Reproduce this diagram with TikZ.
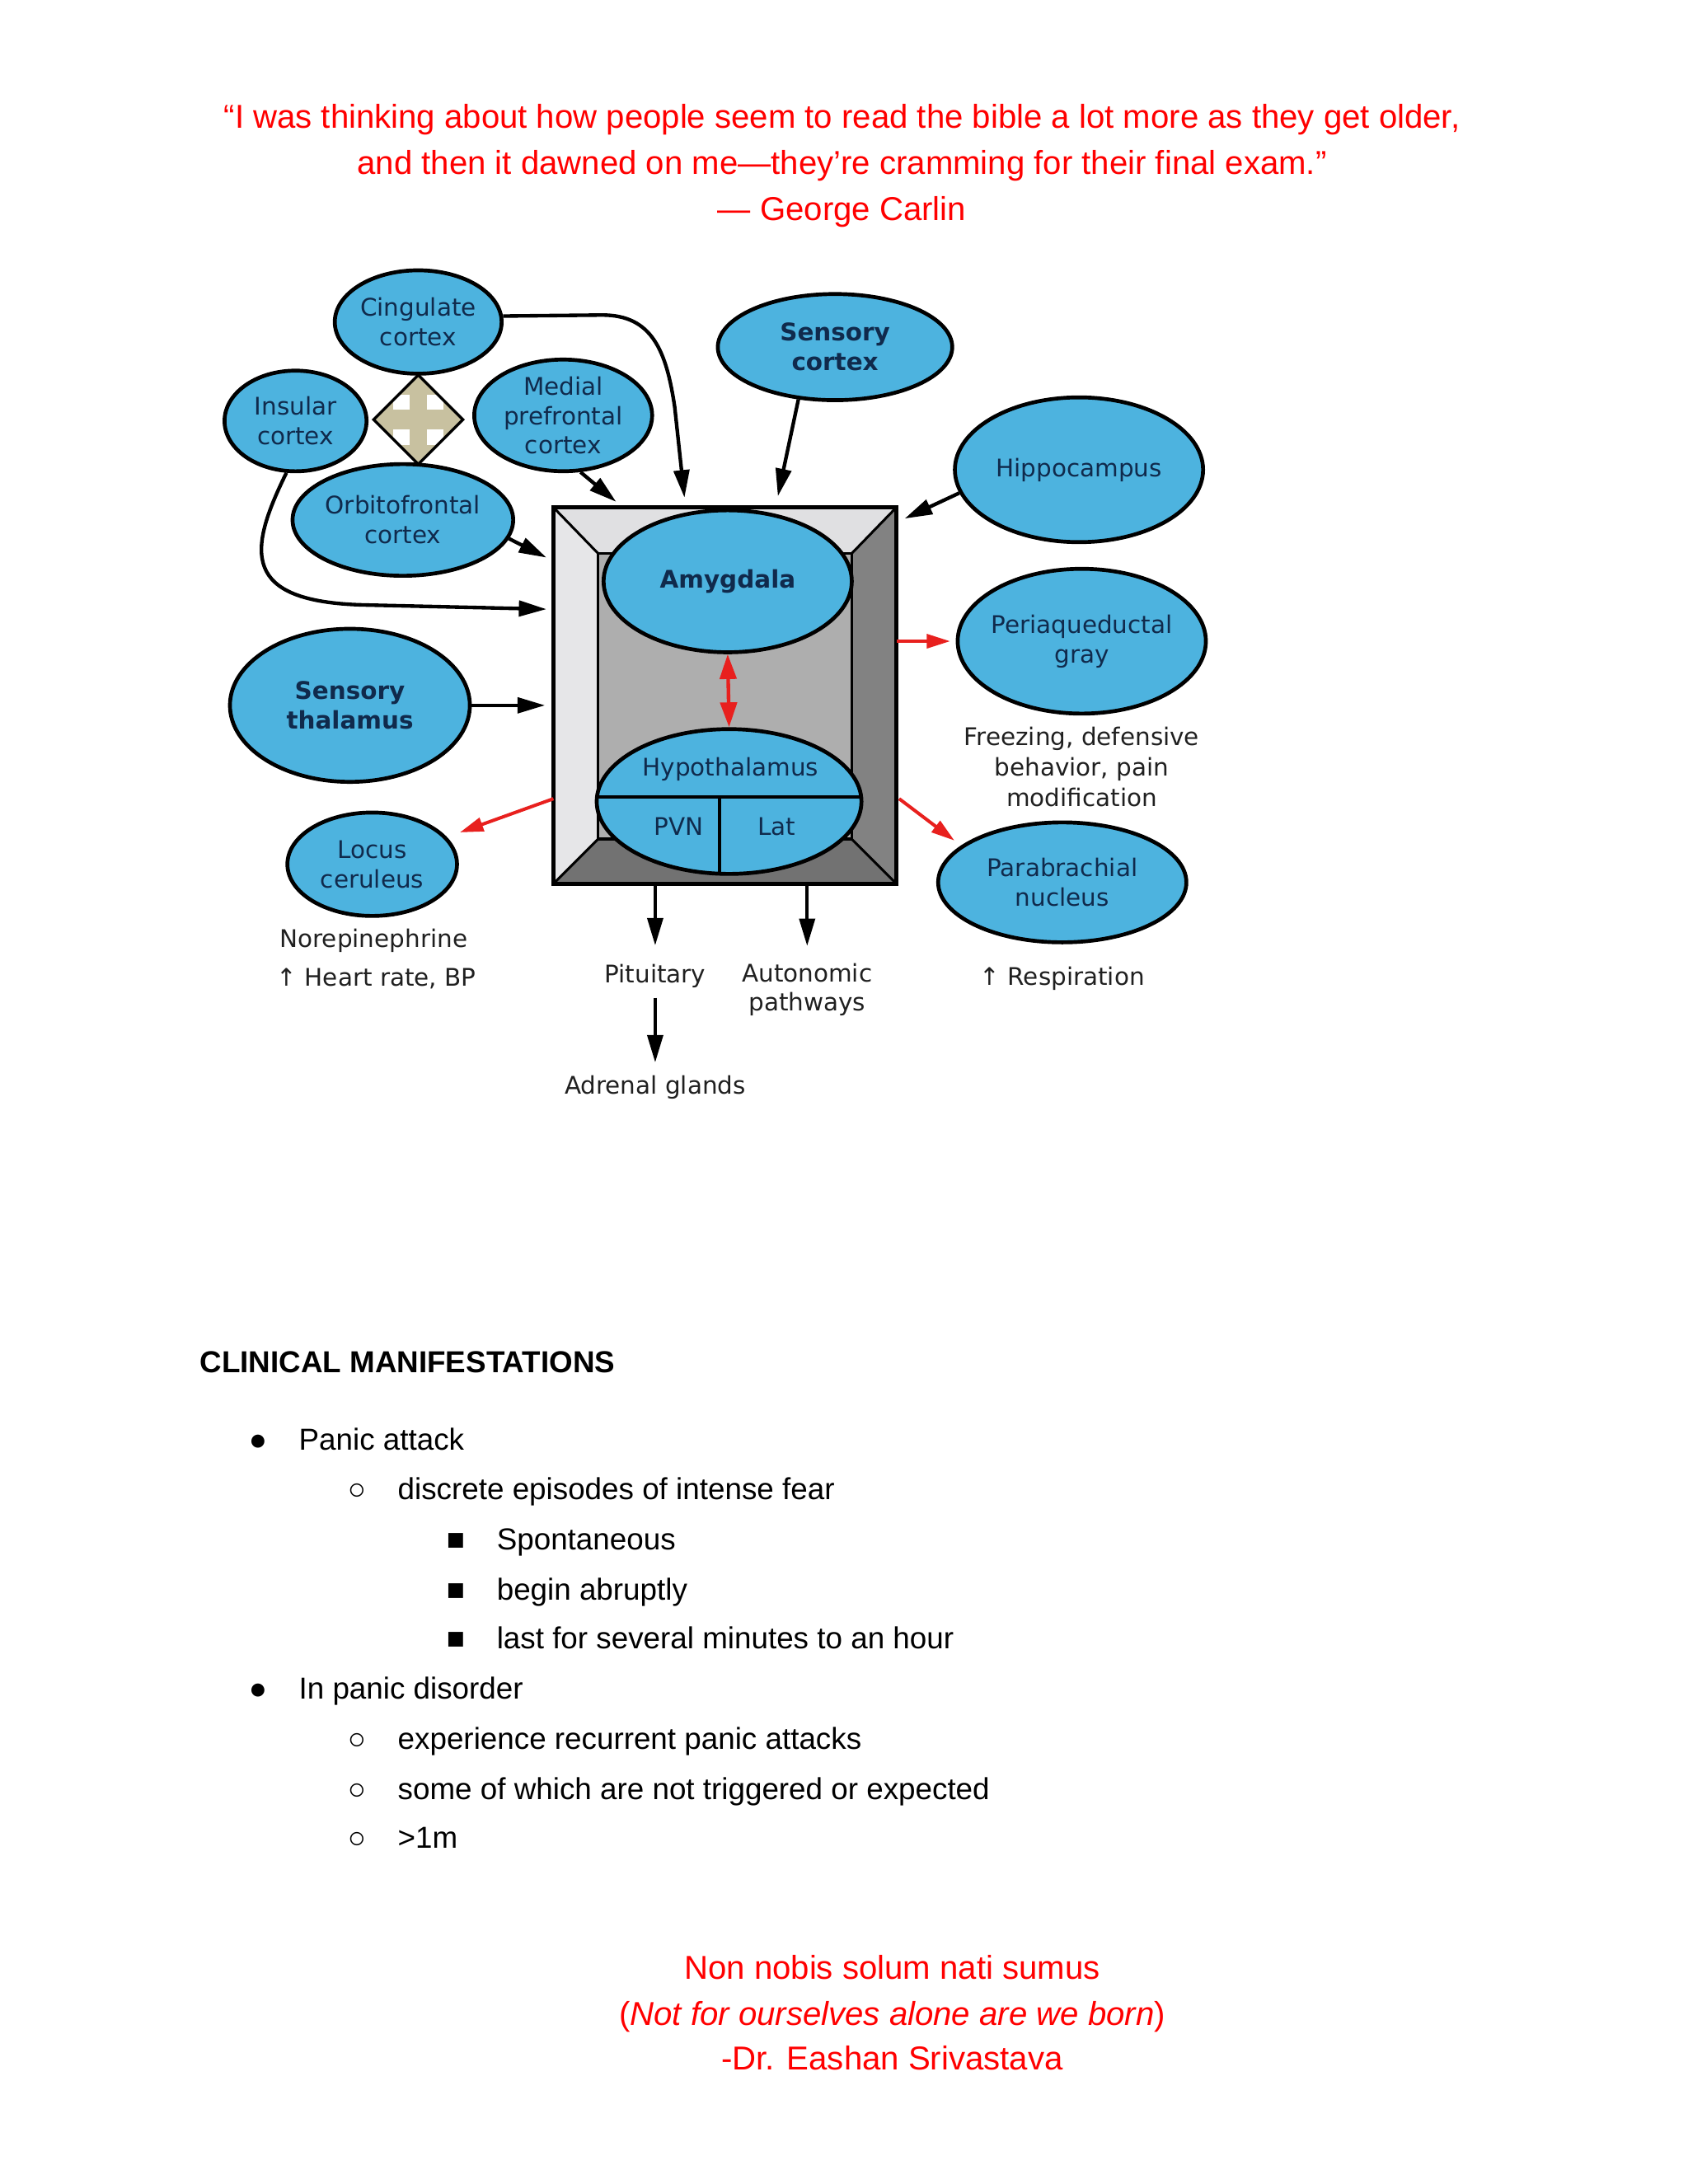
\documentclass[tikz,border=0pt]{standalone}
\usepackage{fontspec}
\setmainfont{Liberation Sans}
\newfontfamily\diagfont{DejaVu Sans}
\usetikzlibrary{shapes.geometric,arrows.meta}
\definecolor{areablue}{HTML}{4DB3DF}
\definecolor{areatext}{HTML}{102A4C}
\definecolor{notetext}{HTML}{202020}
\definecolor{arrowred}{HTML}{E8201E}
\definecolor{diamondtan}{HTML}{C8C1A0}
\definecolor{bevellight}{HTML}{E0E0E2}
\definecolor{bevelside}{HTML}{E6E6E8}
\definecolor{beveldark}{HTML}{828282}
\definecolor{bevelbottom}{HTML}{727272}
\definecolor{innergray}{HTML}{AEAEAE}

\begin{document}
\begin{tikzpicture}[x=0.5055pt,y=-0.5055pt]
        \tikzset{area/.style={ellipse,draw,line width=1.4pt,fill=areablue,inner sep=0pt},
            lbl/.style={font=\diagfont\fontsize{8.8}{10.7}\selectfont,text=areatext,align=center,inner sep=0pt},
            note/.style={lbl,text=notetext},
            link/.style={line width=1.3pt,-{Triangle[length=10pt,width=5.6pt]}},
            efferent/.style={line width=1.2pt,draw=arrowred,-{Triangle[length=8.5pt,width=5pt]}},
            quote/.style={anchor=base,inner sep=0pt,text=red,font=\fontsize{12}{14}\selectfont},
            para/.style={anchor=base west,inner sep=0pt,font=\fontsize{11}{13}\selectfont},
            bul/.style={anchor=base,inner sep=0pt,font=\fontsize{11}{13}\selectfont}}
        \fill[white] (0,0) rectangle (1210.7,1566.8);
        \useasboundingbox (0,0) rectangle (1210.7,1566.8);

        % quote
        \node[quote] (q1) at (604,92) {“I was thinking about how people seem to read the bible a lot more as they get older,};
        \node[quote] (q2) at (604,125) {and then it dawned on me—they’re cramming for their final exam.”};
        \node[quote] (q3) at (604,158) {— George Carlin};

        % box
        \coordinate (otl) at (397,364);
        \coordinate (otr) at (643,364);
        \coordinate (obr) at (643,634);
        \coordinate (obl) at (397,634);
        \coordinate (itl) at (429,397);
        \coordinate (itr) at (611,397);
        \coordinate (ibr) at (611,602);
        \coordinate (ibl) at (429,602);
        \fill[bevellight] (otl) -- (otr) -- (itr) -- (itl) -- cycle;
        \fill[bevelside] (otl) -- (itl) -- (ibl) -- (obl) -- cycle;
        \fill[beveldark] (otr) -- (obr) -- (ibr) -- (itr) -- cycle;
        \fill[bevelbottom] (obl) -- (ibl) -- (ibr) -- (obr) -- cycle;
        \draw[line width=1.1pt,fill=innergray] (itl) rectangle (ibr);
        \draw[line width=0.9pt] (otl) -- (itl) (otr) -- (itr) (obr) -- (ibr) (obl) -- (ibl);

        \node[area,minimum width=90pt,minimum height=51.5pt] (amyg) at (522,417) {};
        \node[area,minimum width=96pt,minimum height=52.5pt] (hypo) at (523,575) {};
        \begin{scope}
            \clip (hypo.center) ellipse [x radius=95,y radius=52];
            \draw[line width=1.2pt] (hypo.center) ++(-100,-3) -- ++(200,0);
            \draw[line width=1.2pt] (hypo.center) ++(-7,-3) -- ++(0,60);
        \end{scope}
        \draw[line width=1.6pt] (otl) rectangle (obr);
        \node[lbl,font=\diagfont\bfseries\fontsize{8.8}{10.7}\selectfont] at (amyg) {Amygdala};
        \node[lbl] at (524,552) {Hypothalamus};
        \node[lbl] at (487,593) {PVN};
        \node[lbl] at (557,593) {Lat};
        \draw[line width=1.3pt,draw=arrowred,{Triangle[length=9pt,width=6pt]}-{Triangle[length=9pt,width=6pt]}]
            (amyg.south) -- (hypo.north);

        % inputs
        \node[area,minimum width=60.5pt,minimum height=37.5pt] (cing) at (300,231) {};
        \node[area,minimum width=51.5pt,minimum height=36.5pt] (insul) at (212,302) {};
        \node[area,minimum width=64.5pt,minimum height=40.5pt] (mpfc) at (404,298) {};
        \node[area,minimum width=80pt,minimum height=40.5pt] (orbf) at (289,373) {};
        \node[area,minimum width=85pt,minimum height=38.5pt] (senscx) at (599,249) {};
        \node[area,minimum width=90pt,minimum height=52.5pt] (hippo) at (774,337) {};
        \node[area,minimum width=87pt,minimum height=55.5pt] (sensth) at (251,506) {};
        \node[lbl] at (cing) {Cingulate\\cortex};
        \node[lbl] at (insul) {Insular\\cortex};
        \node[lbl] at (mpfc) {Medial\\prefrontal\\cortex};
        \node[lbl] at (orbf) {Orbitofrontal\\cortex};
        \node[lbl,font=\diagfont\bfseries\fontsize{8.8}{10.7}\selectfont] at (senscx) {Sensory\\cortex};
        \node[lbl] at (hippo) {Hippocampus};
        \node[lbl,font=\diagfont\bfseries\fontsize{8.8}{10.7}\selectfont] at (sensth) {Sensory\\thalamus};

        \begin{scope}
            \clip (300,269) -- (332,301) -- (300,333) -- (268,301) -- cycle;
            \fill[diamondtan] (268,269) rectangle (332,333);
            \fill[white] (282,283) rectangle (294,294);
            \fill[white] (306,283) rectangle (318,294);
            \fill[white] (282,308) rectangle (294,319);
            \fill[white] (306,308) rectangle (318,319);
        \end{scope}
        \draw[line width=1pt] (300,269) -- (332,301) -- (300,333) -- (268,301) -- cycle;

        \coordinate (cingin) at (491,357);
        \coordinate (scxin) at (558,356);
        \coordinate (mpfcin) at (442,360);
        \coordinate (orbin) at (392,400);
        \coordinate (insin) at (392,437);
        \coordinate (thin) at (391,506);
        \coordinate (hipin) at (649,372);
        \draw[link] (cing.4) -- (432,226) .. controls (468,226) and (478,252) .. (484,292) -- (cingin);
        \draw[link] (senscx.235) -- (scxin);
        \draw[link] (mpfc.287) -- (mpfcin);
        \draw[link] (orbf.350) -- (orbin);
        \draw[link] (insul.260) .. controls (178,395) and (172,432) .. (262,434) -- (insin);
        \draw[link] (sensth.east) -- (thin);
        \draw[link] (hippo.191) -- (hipin);

        % outputs
        \node[area,minimum width=90pt,minimum height=52.5pt] (pag) at (776,460) {};
        \node[area,minimum width=90pt,minimum height=43.5pt] (pbn) at (762,633) {};
        \node[area,minimum width=61.5pt,minimum height=37.5pt] (lc) at (267,620) {};
        \node[lbl] at (pag) {Periaqueductal\\gray};
        \node[lbl] at (pbn) {Parabrachial\\nucleus};
        \node[lbl] at (lc) {Locus\\ceruleus};

        \coordinate (pagout) at (643,460);
        \coordinate (pbnout) at (645,573);
        \coordinate (lcout) at (397,573);
        \coordinate (pitout) at (470,634);
        \coordinate (autout) at (579,634);
        \draw[efferent,shorten >=2pt] (pagout) -- (pag.west);
        \draw[efferent,shorten >=3pt] (pbnout) -- (pbn.160);
        \draw[efferent,shorten >=5pt] (lcout) -- (lc.20);

        \node[note,font=\diagfont\fontsize{8.8}{11}\selectfont] (freeze) at (776,550) {Freezing, defensive\\behavior, pain\\modification};
        \node[note] (norep) at (268,675) {Norepinephrine};
        \node[note] (heart) at (270,702) {↑ Heart rate, BP};
        \node[note] (resp) at (762,702) {↑ Respiration};
        \node[note] (pit) at (470,700) {Pituitary};
        \node[note] (auton) at (579,710) {Autonomic\\pathways};
        \node[note] (adrenal) at (470,780) {Adrenal glands};
        \draw[link,shorten >=6.5pt] (pitout) -- (pit);
        \draw[link,shorten >=6pt] (autout) -- (auton);
        \draw[link,shorten <=3.5pt,shorten >=4.5pt] (pit) -- (adrenal);

        % text
        \node[para,font=\bfseries\fontsize{11}{13}\selectfont] (title) at (143,985) {CLINICAL MANIFESTATIONS};
        \node[bul] at (185,1040) {●};
        \node[para] (i1) at (214,1040) {Panic attack};
        \node[bul] at (256,1076) {○};
        \node[para] (i2) at (285,1076) {discrete episodes of intense fear};
        \node[bul] at (327,1112) {■};
        \node[para] (i3) at (356,1112) {Spontaneous};
        \node[bul] at (327,1148) {■};
        \node[para] (i4) at (356,1148) {begin abruptly};
        \node[bul] at (327,1183) {■};
        \node[para] (i5) at (356,1183) {last for several minutes to an hour};
        \node[bul] at (185,1219) {●};
        \node[para] (i6) at (214,1219) {In panic disorder};
        \node[bul] at (256,1255) {○};
        \node[para] (i7) at (285,1255) {experience recurrent panic attacks};
        \node[bul] at (256,1291) {○};
        \node[para] (i8) at (285,1291) {some of which are not triggered or expected};
        \node[bul] at (256,1326) {○};
        \node[para] (i9) at (285,1326) {>1m};

        \node[quote] (m1) at (640,1420) {Non nobis solum nati sumus};
        \node[quote] (m2) at (640,1453) {(\textit{Not for ourselves alone are we born})};
        \node[quote] (m3) at (640,1485) {-Dr. Eashan Srivastava};
    \end{tikzpicture}
\end{document}
